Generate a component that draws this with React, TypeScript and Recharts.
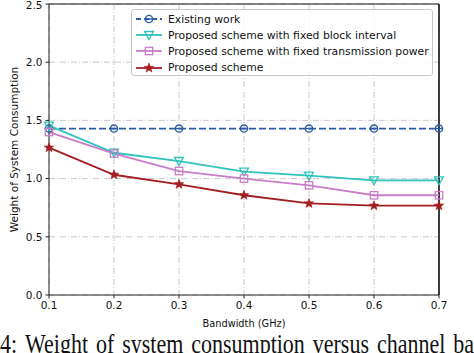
import React from 'react';
import {
  LineChart, Line, XAxis, YAxis, CartesianGrid, Legend, ReferenceLine,
} from 'recharts';

const bandwidth = [0.1, 0.2, 0.3, 0.4, 0.5, 0.6, 0.7];
const existingWork = [1.43, 1.43, 1.43, 1.43, 1.43, 1.43, 1.43];
const fixedBlockInterval = [1.455, 1.222, 1.151, 1.06, 1.025, 0.985, 0.985];
const fixedTransmissionPower = [1.4, 1.215, 1.065, 1.0, 0.942, 0.857, 0.857];
const proposedScheme = [1.266, 1.033, 0.951, 0.857, 0.787, 0.767, 0.767];

const xTicks = [0.1, 0.2, 0.3, 0.4, 0.5, 0.6, 0.7];
const yTicks = [0, 0.5, 1.0, 1.5, 2.0, 2.5];

const FONT = '"DejaVu Sans", sans-serif';

const COLORS = {
  existing: '#2c5ba6',
  block: '#2ec2bd',
  power: '#c87dc9',
  proposed: '#a41d22',
};

const data = bandwidth.map((b, i) => ({
  bw: b,
  existing: existingWork[i],
  block: fixedBlockInterval[i],
  power: fixedTransmissionPower[i],
  proposed: proposedScheme[i],
}));

type Shape = 'circle' | 'tri' | 'square' | 'star';

function Marker({ cx, cy, shape, color }: { cx: number; cy: number; shape: Shape; color: string }) {
  if (cx == null || cy == null) return null;
  if (shape === 'circle') {
    return (
      <g>
        <circle cx={cx} cy={cy} r={3.6} fill="none" stroke={color} strokeWidth={1.4} />
        <line x1={cx - 3.6} x2={cx + 3.6} y1={cy} y2={cy} stroke={color} strokeWidth={1.4} />
      </g>
    );
  }
  if (shape === 'tri') {
    const s = 4.4;
    return (
      <polygon
        points={`${cx - s},${cy - s * 0.8} ${cx + s},${cy - s * 0.8} ${cx},${cy + s}`}
        fill="none" stroke={color} strokeWidth={1.3}
      />
    );
  }
  if (shape === 'square') {
    return <rect x={cx - 3.7} y={cy - 3.7} width={7.4} height={7.4} fill="none" stroke={color} strokeWidth={1.3} />;
  }
  const pts: string[] = [];
  for (let k = 0; k < 10; k++) {
    const r = k % 2 === 0 ? 5 : 2.1;
    const a = -Math.PI / 2 + (k * Math.PI) / 5;
    pts.push(`${cx + r * Math.cos(a)},${cy + r * Math.sin(a)}`);
  }
  return <polygon points={pts.join(' ')} fill={color} stroke={color} strokeWidth={0.6} />;
}

const SERIES: { key: string; name: string; color: string; shape: Shape; dash?: string }[] = [
  { key: 'existing', name: 'Existing work', color: COLORS.existing, shape: 'circle', dash: '7 3' },
  { key: 'block', name: 'Proposed scheme with fixed block interval', color: COLORS.block, shape: 'tri' },
  { key: 'power', name: 'Proposed scheme with fixed transmission power', color: COLORS.power, shape: 'square' },
  { key: 'proposed', name: 'Proposed scheme', color: COLORS.proposed, shape: 'star' },
];

function LegendBox() {
  return (
    <div
      style={{
        width: 302, height: 67, boxSizing: 'border-box', background: 'rgba(255,255,255,0.85)',
        border: '1px solid #c8c8c8', borderRadius: 3, padding: '1px 0 0 3px', fontFamily: FONT,
      }}
    >
      {SERIES.map(s => (
        <div key={s.key} style={{ display: 'flex', alignItems: 'center', height: 16.2 }}>
          <svg width={28} height={14} style={{ flex: 'none' }}>
            <line x1={1} x2={27} y1={7} y2={7} stroke={s.color} strokeWidth={1.8} strokeDasharray={s.dash ? '5 3' : undefined} />
            <Marker cx={14} cy={7} shape={s.shape} color={s.color} />
          </svg>
          <span style={{ marginLeft: 5, fontSize: 10.8, color: '#111', whiteSpace: 'nowrap' }}>{s.name}</span>
        </div>
      ))}
    </div>
  );
}

const captionWords = ['4:', 'Weight', 'of', 'system', 'consumption', 'versus', 'channel', 'ba'];

export default function App() {
  return (
    <div style={{ position: 'absolute', left: 0, top: 0, width: 474, height: 353, background: '#fff', overflow: 'hidden' }}>
      <LineChart width={474} height={353} data={data} margin={{ top: 4, right: 35, bottom: 0, left: 0 }}>
        <CartesianGrid stroke="#bdbdbd" strokeWidth={0.8} strokeDasharray="6 2 1 2" />
        <XAxis
          dataKey="bw"
          type="number"
          domain={[0.1, 0.7]}
          ticks={xTicks}
          tickFormatter={(v: number) => v.toFixed(1)}
          height={58}
          tickSize={3.5}
          tickMargin={3}
          stroke="#222"
          tick={{ fontSize: 10.5, fill: '#111', fontFamily: FONT }}
          label={{ value: 'Bandwidth (GHz)', position: 'insideBottom', offset: 26, style: { fontSize: 9.8, fill: '#111', fontFamily: FONT } }}
        />
        <YAxis
          type="number"
          domain={[0, 2.5]}
          ticks={yTicks}
          tickFormatter={(v: number) => v.toFixed(1)}
          width={49}
          tickSize={3.5}
          tickMargin={3}
          stroke="#222"
          tick={{ fontSize: 10.5, fill: '#111', fontFamily: FONT }}
          label={{ value: 'Weight of System Consumption', angle: -90, position: 'insideLeft', offset: 14, style: { fontSize: 10.5, fill: '#111', fontFamily: FONT, textAnchor: 'middle' } }}
        />
        <ReferenceLine y={2.5} stroke="#111" strokeWidth={1.2} />
        <ReferenceLine x={0.7} stroke="#111" strokeWidth={1.6} />
        {SERIES.map(s => (
          <Line
            key={s.key}
            dataKey={s.key}
            name={s.name}
            stroke={s.color}
            strokeWidth={1.8}
            strokeDasharray={s.dash}
            isAnimationActive={false}
            dot={(p: any) => <Marker key={`${s.key}-${p.index}`} cx={p.cx} cy={p.cy} shape={s.shape} color={s.color} />}
            activeDot={false}
          />
        ))}
        <Legend
          layout="vertical"
          align="center"
          verticalAlign="middle"
          wrapperStyle={{ top: 9, left: 131, width: 302, height: 67 }}
          content={() => <LegendBox />}
        />
      </LineChart>
      <div
        style={{
          position: 'absolute', left: 0, top: 331, width: 474, display: 'flex', justifyContent: 'space-between',
          fontFamily: '"Liberation Serif", serif', fontSize: 22, lineHeight: '22px', color: '#111', whiteSpace: 'nowrap',
          transform: 'scaleY(1.2)', transformOrigin: 'top left',
        }}
      >
        {captionWords.map(w => <span key={w}>{w}</span>)}
      </div>
    </div>
  );
}
